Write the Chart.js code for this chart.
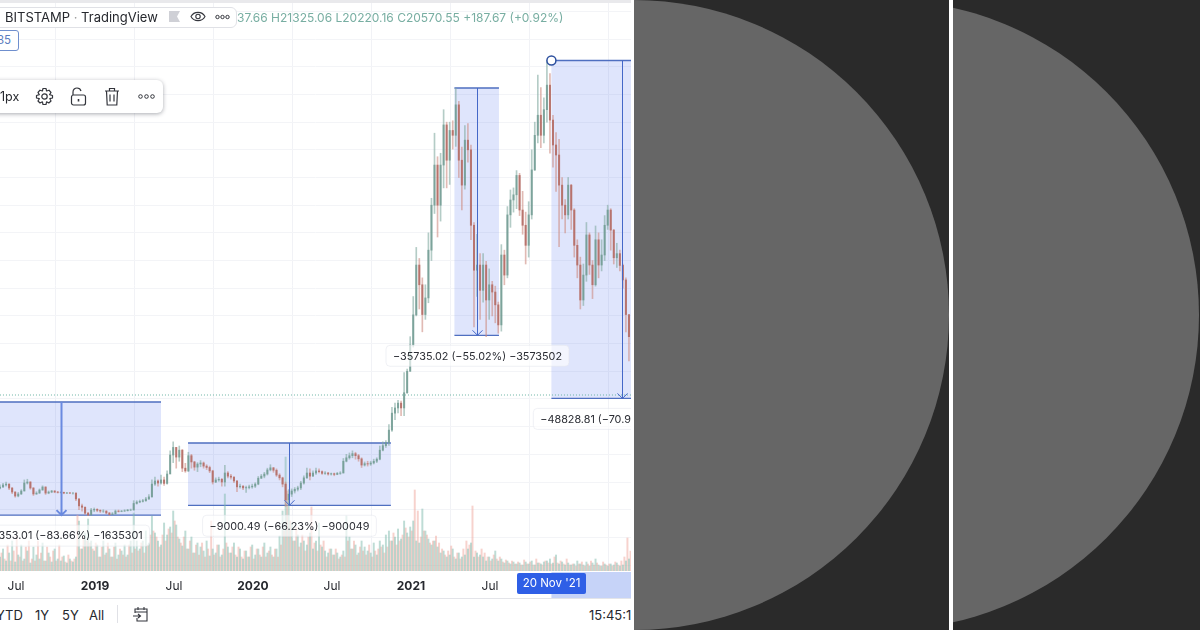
<!DOCTYPE html>
<html>
<head>
<meta charset="utf-8">
<title>BITSTAMP TradingView</title>
<script src="https://cdn.jsdelivr.net/npm/chart.js@4/dist/chart.umd.min.js"></script>
<style>
    html, body { margin: 0; padding: 0; background: #fff; width: 1200px; height: 630px; overflow: hidden; font-family: Inter, "Noto Sans", sans-serif; color: #26282e; }
    .abs { position: absolute; white-space: nowrap; }
    #left { position: absolute; left: 0; top: 0; width: 631px; height: 630px; overflow: hidden; }
    #chart { position: absolute; left: 0; top: 0; }
    #topstrip { position: absolute; left: 0; top: 0; width: 631px; height: 3px; background: #e9e9ec; }
    #pill { left: -10px; top: 7px; width: 245px; height: 19px; border: 1px solid #e0e1e6; border-radius: 6px; background: rgba(255,255,255,.95); }
    #ohlc { left: 237px; top: 10px; font-size: 12px; color: #78aea2; }
    #tag { left: -8px; top: 30px; width: 18px; height: 19px; border: 1px solid #6f8fce; border-radius: 3px; color: #5b7cc0; font-size: 11.5px; line-height: 19px; text-align: right; padding-right: 7px; background: #fff; }
    #tools { left: -12px; top: 80px; width: 175px; height: 33px; border-radius: 6px; background: #fff; box-shadow: 0 1px 4px rgba(40,45,60,.4); }
    #axisline { left: 0; top: 598px; width: 631px; height: 1px; background: #e3e4e9; }
    .range { top: 607px; font-size: 13px; }
    #sep { left: 117px; top: 605px; width: 1px; height: 18px; background: #e0e1e6; }
    .panel { position: absolute; top: 0; height: 630px; background: #2a2a2a; overflow: hidden; }
    .disc { position: absolute; top: 0; width: 630px; height: 630px; border-radius: 50%; background: #666; }
</style>
</head>
<body>
<div id="left">
    <canvas id="chart" width="631" height="598"></canvas>
    <div id="topstrip"></div>

    <div class="abs" id="pill"></div>
    <div class="abs" style="left:5px;top:9px;font-size:13px;line-height:16px">BITSTAMP <span style="color:#999">·</span> TradingView</div>
    <svg class="abs" style="left:169px;top:11px" width="12" height="12"><path d="M0 0H11L8 5.5L11 11H0Z" fill="#cfd0d6"/></svg>
    <svg class="abs" style="left:190px;top:10px" width="16" height="13" fill="none" stroke="#33353c" stroke-width="1.1"><path d="M1 6.5C4 1 12 1 15 6.5C12 12 4 12 1 6.5Z"/><circle cx="8" cy="6.5" r="2.2"/></svg>
    <svg class="abs" style="left:215px;top:14px" width="16" height="6" fill="none" stroke="#33353c" stroke-width="1"><circle cx="2.5" cy="3" r="1.7"/><circle cx="7.5" cy="3" r="1.7"/><circle cx="12.5" cy="3" r="1.7"/></svg>
    <div class="abs" id="ohlc">37.66 H21325.06 L20220.16 C20570.55 +187.67 (+0.92%)</div>
    <div class="abs" id="tag">85</div>

    <div class="abs" id="tools"></div>
    <div class="abs" style="left:0;top:89px;font-size:12.5px;">1px</div>
    <svg class="abs" style="left:35px;top:87px" width="19" height="19" fill="none" stroke="#33353c" stroke-width="1.2"><path d="M8 1.5H11L11.6 4L14 3.2L16 5.5L14.6 7.6L17.5 8.5V11L14.8 11.6L16 14L13.8 16L11.6 14.8L11 17.5H8L7.4 14.8L5 16L3 14L4.3 11.6L1.5 11V8.5L4.3 7.6L3 5.5L5 3.2L7.4 4Z" stroke-linejoin="round"/><circle cx="9.5" cy="9.5" r="2.7"/></svg>
    <svg class="abs" style="left:70px;top:87px" width="17" height="19" fill="none" stroke="#33353c" stroke-width="1.2"><path d="M3 8V5C3 2.5 5 1 7 1C9 1 10.5 2 11 4"/><rect x="1.5" y="8" width="14" height="10" rx="2"/><path d="M8.5 12V14.5" stroke-width="1.6"/></svg>
    <svg class="abs" style="left:104px;top:87px" width="16" height="19" fill="none" stroke="#33353c" stroke-width="1.2"><path d="M1 4H15M5.5 4V1.5H10.5V4M2.5 4L3.2 18H12.8L13.5 4M6 7.5V14.5M10 7.5V14.5"/></svg>
    <svg class="abs" style="left:138px;top:93px" width="17" height="7" fill="none" stroke="#33353c" stroke-width="1"><circle cx="2.5" cy="3.5" r="1.8"/><circle cx="8.5" cy="3.5" r="1.8"/><circle cx="14.5" cy="3.5" r="1.8"/></svg>

    <div class="abs" id="axisline"></div>
    <div class="abs range" style="left:-4px">YTD</div>
    <div class="abs range" style="left:35px">1Y</div>
    <div class="abs range" style="left:62px">5Y</div>
    <div class="abs range" style="left:89px">All</div>
    <div class="abs" id="sep"></div>
    <svg class="abs" style="left:132px;top:606px" width="16" height="16" fill="none" stroke="#33353c" stroke-width="1.1"><path d="M3 7V3H15V15H5V12M3 6H15M6 1V4M12 1V4M1 10H8M6 8L8.5 10L6 12"/></svg>
    <div class="abs" style="left:589px;top:607px;font-size:13px;">15:45:1</div>
</div>

<div class="panel" style="left:634px;width:315px"><div class="disc" style="left:-315px"></div></div>
<div class="panel" style="left:953px;width:247px"><div class="disc" style="left:-384px"></div></div>

<script>
    // weekly candles, USD, first week is firstWeek (decimal year)
    const firstWeek = 2018.399;
    const firstOpen = 7100;
    const priceClose = [
        7280,7570,7700,7130,6550,5980,6270,6700,7850,8000,
        7130,6270,6400,6850,7280,6400,6550,6700,6550,6500,
        6500,6400,6420,6400,6400,5550,4550,4350,3500,3230,
        3950,4050,3900,3800,3800,3520,3300,3400,3800,3750,
        3800,3850,3950,3950,4900,5100,5200,5300,5550,5850,
        7700,8150,7850,8300,7800,9150,11900,13000,11600,12600,
        10000,9600,11800,10900,10150,10600,10750,10300,10100,9600,
        8000,8300,8400,8000,9300,8850,8700,8150,7300,7400,
        7150,7200,7300,7400,7700,8550,8850,9150,9750,10050,
        9700,9000,8600,7700,5400,6250,6700,6950,7150,7850,
        8600,9300,8850,9300,9600,9500,9250,9300,9150,9200,
        9100,9250,9300,11000,11500,11800,12100,11800,11350,10450,
        10650,10600,10750,11000,11300,12600,13250,13700,15500,17950,
        18700,19400,18700,20900,24000,27800,32150,39350,36500,32200,
        34600,41500,48000,53800,48000,53800,59600,54500,58800,58100,
        62500,54500,50900,57400,56000,45100,38600,39350,35700,39350,
        34300,36500,35450,33600,30700,40800,37900,46600,48750,49500,
        52300,47300,45100,42200,46600,53100,58100,61000,58100,61800,
        65350,60300,56700,55250,50900,48000,46600,50900,47300,42200,
        39350,34300,37900,43700,39350,36500,43000,39350,40800,45100,
        47300,44400,40400,41000,39300,37200,32200,29000
    ];
    const priceHigh = [
        7600,7800,8000,7750,7200,6600,6500,6900,8300,8400,
        8050,7200,6600,7000,7450,7300,6700,6800,6750,6650,
        6600,6550,6500,6500,6480,6450,5600,4800,4400,3600,
        4200,4250,4150,4000,4000,3850,3600,3600,3950,3950,
        3900,4000,4050,4100,5300,5300,5400,5500,5800,6200,
        8300,8700,8300,9000,8700,9600,12500,13800,13000,13200,
        12700,10700,12300,12000,11000,10800,11100,10900,10500,10300,
        9700,8600,8700,8500,10400,9500,9100,8800,8200,7700,
        7500,7400,7550,7700,7900,8800,9100,9400,10000,10500,
        10100,9900,9200,8700,8000,6900,7000,7200,7400,8100,
        8900,10000,9900,9600,10000,9900,9600,9500,9400,9300,
        9300,9400,9500,11400,12000,12200,12500,12300,12000,11500,
        10900,11000,11000,11300,11500,13200,13800,14000,16300,18800,
        19400,19800,19700,23800,24300,29000,34800,41900,40300,37500,
        36500,44000,49000,58400,55000,55500,61800,60000,60000,60200,
        64900,63000,56400,59500,59800,56700,45500,43800,41000,41000,
        39900,38800,37000,36300,34000,42300,41500,47800,50200,50500,
        53000,52600,50000,47000,48500,56000,60000,66800,65000,63500,
        68900,67000,61000,58500,57500,52000,48800,52000,51000,47500,
        43000,40500,39500,45500,44000,40000,45000,44000,43000,46500,
        48000,47500,44500,42500,41500,39500,37500,32000
    ];
    const priceLow = [
        7000,7200,7400,6900,6300,5800,5850,6200,6700,7700,
        6950,6050,6200,6350,6800,6200,6300,6450,6450,6400,
        6400,6300,6300,6300,6250,5300,4000,3800,3300,3150,
        3200,3700,3700,3600,3600,3400,3200,3300,3350,3650,
        3700,3750,3800,3850,3950,4800,5000,5100,5200,5500,
        5800,7500,7400,7700,7500,7700,9200,10800,10000,11000,
        9500,9400,9500,10000,9700,9500,10200,10000,9800,9350,
        7700,7900,8100,7400,7400,8600,8400,7900,6600,7100,
        6900,6500,7000,7100,7200,7600,8500,8600,9000,9600,
        9400,8800,8300,7300,4500,4800,5900,6400,6700,6900,
        7700,8500,8300,8800,9100,9300,9100,9100,9000,9000,
        8900,9050,9100,9300,10900,11300,11500,11300,11000,10100,
        10300,10300,10400,10600,10800,11200,12500,13000,13300,15300,
        17000,18000,17600,17600,20800,24000,27500,32000,33000,29700,
        31500,33900,40000,46800,43400,45700,50500,50500,51000,56100,
        56500,52000,47300,50300,54200,43000,30400,34800,31500,34000,
        29000,31500,32000,31000,29500,29800,36500,37500,44800,47000,
        47500,46500,43800,39500,40500,46000,53000,57000,56300,57000,
        60000,55500,53500,50000,42000,46000,44000,46000,44500,40500,
        37500,33000,33500,37000,38000,34500,36300,37500,38500,40000,
        44500,41500,39500,39000,38500,36000,29700,25500
    ];
    // volume, thousand BTC per week
    const volumeUp = [
        14,22,10,18,30,9,16,26,12,20,
        8,24,16,12,28,10,18,9,22,12,
        10,15,8,12,9,14,50,22,38,52,
        30,20,26,14,30,18,22,14,28,16,
        20,26,16,30,58,30,22,30,40,28,
        55,38,30,26,48,36,44,60,46,32,
        25,40,22,34,18,28,24,20,30,15,
        22,18,26,16,77,24,18,28,14,22,
        12,20,14,26,16,22,14,28,18,24,
        14,22,35,60,114,70,48,30,36,28,
        30,26,38,22,30,48,24,20,18,22,
        16,18,14,20,55,34,22,26,18,30,
        24,20,18,28,16,30,26,36,40,30,
        34,42,32,50,38,44,50,30,28,62,
        40,32,26,30,24,18,20,14,16,22,
        12,18,14,16,22,28,14,18,16,14,
        10,14,12,20,10,12,8,10,7,9,
        7,8,6,9,7,10,6,8,7,9,
        10,12,8,16,7,9,6,8,6,7,
        10,7,6,9,5,8,12,6,5,7,
        5,7,6,8,5,6,10,12
    ];
    const volumeDown = [
        18,12,26,10,20,35,14,10,24,30,
        12,10,30,18,10,24,14,20,10,26,
        14,9,16,10,12,56,22,34,30,28,
        22,28,14,24,16,28,14,24,12,22,
        16,14,26,18,22,20,28,18,26,36,
        40,34,24,36,30,42,38,50,34,28,
        34,22,30,18,26,16,28,14,22,50,
        16,26,14,22,28,18,24,16,24,14,
        20,14,24,12,22,16,24,14,20,16,
        22,14,26,40,80,50,30,44,24,36,
        20,34,64,28,20,26,30,14,22,16,
        22,12,16,14,30,22,30,16,24,20,
        16,26,14,20,22,24,18,24,30,38,
        26,30,36,43,34,40,81,60,34,40,
        36,28,30,35,28,22,16,20,25,14,
        18,12,22,30,26,65,20,14,22,18,
        14,10,16,12,14,9,11,8,10,7,
        9,6,11,7,9,6,12,8,6,10,
        8,7,14,8,10,7,12,6,7,5,
        7,9,5,7,10,6,8,5,9,6,
        7,5,9,6,10,14,33,20
    ];

    const tickDates = [2018.5, 2019, 2019.5, 2020, 2020.5, 2021, 2021.5, 2022];
    const tickLabels = ['Jul', '2019', 'Jul', '2020', 'Jul', '2021', 'Jul', ''];
    const gridPrices = [-4000,0,4000,8000,12000,16000,20000,24000,28000,32000,36000,40000,44000,48000,52000,56000,60000,64000,68000,72000,76000];
    const lastPrice = 20570;

    // the four measuring tool drawings
    const measureStart = [2018.152, 2019.589, 2021.275, 2021.889];
    const measureEnd = [2019.418, 2020.873, 2021.557, 2022.784];
    const measureTop = [19561, 13637, 64934, 68908];
    const measureBottom = [3208, 4637, 29199, 20079];
    const measureLabels = [
        '\u221216353.01 (\u221283.66%) \u22121635301',
        '\u22129000.49 (\u221266.23%) \u2212900049',
        '\u221235735.02 (\u221255.02%) \u22123573502',
        '\u221248828.81 (\u221270.91%) \u22124882881'
    ];
    const crosshairDate = 2021.889;
    const crosshairLabel = "20 Nov '21";

    const WEEK = 1 / 52;
    const dateOf = i => firstWeek + i * WEEK;
    const isUp = i => priceClose[i] >= (i ? priceClose[i - 1] : firstOpen);

    const measurePlugin = {
        id: 'measurePlugin',
        // fill and top/bottom edges go under the candles and the peak marker
        beforeDatasetsDraw(chart) {
            const { ctx, scales: { x, y } } = chart;
            ctx.save();
            measureStart.forEach((d, i) => {
                const l = x.getPixelForValue(d), r = x.getPixelForValue(measureEnd[i]);
                const t = y.getPixelForValue(measureTop[i]), b = y.getPixelForValue(measureBottom[i]);
                ctx.fillStyle = 'rgba(65,100,235,0.17)';
                ctx.fillRect(l, t, r - l, b - t);
                ctx.strokeStyle = '#4f6fc0';
                ctx.lineWidth = 1.3;
                ctx.beginPath();
                ctx.moveTo(l, t); ctx.lineTo(r, t);
                ctx.moveTo(l, b); ctx.lineTo(r, b);
                ctx.stroke();
            });
            ctx.restore();
        },
        afterDatasetsDraw(chart) {
            const { ctx, scales: { x, y } } = chart;
            ctx.save();
            measureStart.forEach((d, i) => {
                const l = x.getPixelForValue(d), r = x.getPixelForValue(measureEnd[i]);
                const t = y.getPixelForValue(measureTop[i]), b = y.getPixelForValue(measureBottom[i]);
                const mid = Math.round((l + r) / 2) + 0.5;
                ctx.strokeStyle = i === 0 ? '#6a8ae0' : '#4468c8';
                ctx.lineWidth = i === 0 ? 2 : 1;
                ctx.beginPath();
                ctx.moveTo(mid, t); ctx.lineTo(mid, b);
                ctx.moveTo(mid - 5, b - 5); ctx.lineTo(mid, b); ctx.lineTo(mid + 5, b - 5);
                ctx.stroke();

                // result label under the box
                ctx.font = '10.8px Inter, sans-serif';
                ctx.textBaseline = 'middle';
                ctx.textAlign = 'center';
                const w = ctx.measureText(measureLabels[i]).width + 14;
                ctx.beginPath();
                ctx.roundRect(mid - w / 2, b + 10, w, 21, 4);
                ctx.fillStyle = 'rgba(255,255,255,0.65)';
                ctx.fill();
                ctx.strokeStyle = 'rgba(225,227,235,0.5)';
                ctx.lineWidth = 1;
                ctx.stroke();
                ctx.fillStyle = '#2a2c33';
                ctx.fillText(measureLabels[i], mid, b + 21);
            });
            ctx.restore();
        },
        afterDraw(chart) {
            const { ctx, chartArea, scales: { x } } = chart;
            const cx = x.getPixelForValue(crosshairDate);
            ctx.save();
            ctx.fillStyle = '#c6d3f8';
            ctx.fillRect(cx, chartArea.bottom + 1, chart.width - cx, 26);
            ctx.fillStyle = '#2f5fe6';
            ctx.beginPath();
            ctx.roundRect(517, chartArea.bottom + 2, 69, 21, 2);
            ctx.fill();
            ctx.fillStyle = '#fff';
            ctx.font = '11.5px Inter, sans-serif';
            ctx.textAlign = 'center';
            ctx.textBaseline = 'middle';
            ctx.fillText(crosshairLabel, 551.5, chartArea.bottom + 13);
            ctx.restore();
        }
    };

    new Chart(document.getElementById('chart'), {
        type: 'bar',
        plugins: [measurePlugin],
        data: {
            datasets: [
                {
                    type: 'scatter',
                    order: 0,
                    data: [{ x: measureStart[3], y: measureTop[3] }],
                    pointRadius: 4.5,
                    pointBorderWidth: 1.5,
                    pointBackgroundColor: '#fff',
                    pointBorderColor: '#2c4f9e'
                },
                {
                    type: 'line',
                    order: 1,
                    data: [{ x: 2018, y: lastPrice }, { x: 2023, y: lastPrice }],
                    borderColor: '#6db3a5',
                    borderWidth: 1,
                    borderDash: [1, 2],
                    pointRadius: 0
                },
                {
                    order: 2,
                    data: priceClose.map((c, i) => ({ x: dateOf(i), y: [i ? priceClose[i - 1] : firstOpen, c] })),
                    backgroundColor: priceClose.map((c, i) => isUp(i) ? 'rgba(105,150,140,.75)' : 'rgba(178,105,98,.85)'),
                    barThickness: 1.4,
                    yAxisID: 'y'
                },
                {
                    order: 3,
                    data: priceHigh.map((h, i) => ({ x: dateOf(i), y: [priceLow[i], h] })),
                    backgroundColor: priceClose.map((c, i) => isUp(i) ? 'rgba(130,170,160,.6)' : 'rgba(205,140,130,.6)'),
                    barThickness: 1,
                    yAxisID: 'y'
                },
                {
                    order: 4,
                    data: volumeUp.map((v, i) => ({ x: dateOf(i), y: v })),
                    backgroundColor: 'rgba(125,185,172,.5)',
                    barThickness: 1.3,
                    yAxisID: 'vol'
                },
                {
                    order: 5,
                    data: volumeDown.map((v, i) => ({ x: dateOf(i) + WEEK / 2, y: v })),
                    backgroundColor: 'rgba(240,165,155,.5)',
                    barThickness: 1.3,
                    yAxisID: 'vol'
                }
            ]
        },
        options: {
            responsive: false,
            animation: false,
            devicePixelRatio: 1,
            layout: { padding: 0, autoPadding: false },
            plugins: { legend: { display: false }, tooltip: { enabled: false } },
            datasets: { bar: { grouped: false, borderSkipped: false } },
            scales: {
                x: {
                    type: 'linear',
                    offset: false,
                    min: firstWeek,
                    max: firstWeek + 631 / 158,
                    afterBuildTicks: scale => { scale.ticks = tickDates.map(value => ({ value })); },
                    afterFit: scale => { scale.height = 27; scale.paddingLeft = 0; scale.paddingRight = 0; },
                    border: { display: false },
                    grid: { color: '#f1f2f6', drawTicks: false },
                    ticks: {
                        autoSkip: false,
                        maxRotation: 0,
                        padding: 8,
                        color: '#26282e',
                        callback: (value, i) => tickLabels[i],
                        font: ctx => ({
                            family: 'Inter, sans-serif',
                            size: 12,
                            weight: ctx.index % 2 ? 'bold' : 'normal'
                        })
                    }
                },
                y: {
                    min: -4860,
                    max: 77650,
                    afterBuildTicks: scale => { scale.ticks = gridPrices.map(value => ({ value })); },
                    afterFit: scale => { scale.width = 0; },
                    border: { display: false },
                    grid: { color: '#f3f4f7', drawTicks: false },
                    ticks: { display: false }
                },
                vol: { display: false, min: 0, max: 571 }
            }
        }
    });
</script>
</body>
</html>
